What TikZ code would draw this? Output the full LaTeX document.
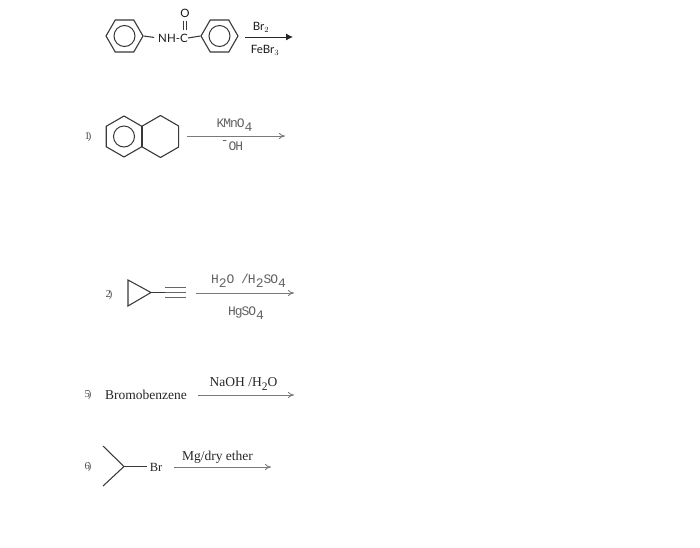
\documentclass[tikz,border=0pt]{standalone}
\usepackage{fontspec}
\setmainfont{Liberation Serif}
\newfontfamily\labelfont{Lato}
\newfontfamily\squeezefont[LetterSpace=-8]{Liberation Mono}
\newcommand{\lowsub}[1]{\raisebox{-4pt}{#1}}
\usetikzlibrary{shapes.geometric,arrows.meta}
\tikzset{
  bondline/.style={draw=black!78, line width=1.05pt},
  hexring/.style={regular polygon, regular polygon sides=6, draw=black!78,
    line width=1.1pt, minimum size=37pt, inner sep=0pt},
  arocircle/.style={circle, draw=black!78, line width=1pt, minimum size=21pt, inner sep=0pt},
  rxnarrow/.style={draw=black!52, line width=0.9pt, -{To[length=6pt,width=6pt]}},
  sanslabel/.style={font=\labelfont\fontsize{11.5}{12}\selectfont, text=black!90, inner sep=0pt},
  monolabel/.style={font=\squeezefont\fontsize{13}{14}\selectfont, text=black!62, inner sep=0pt},
  seriflabel/.style={font=\fontsize{13.5}{14}\selectfont, text=black!85, inner sep=0pt},
  numlabel/.style={font=\fontsize{10.5}{11}\selectfont, text=black!70, inner sep=0pt},
}
\begin{document}
\begin{tikzpicture}[x=1pt,y=1pt]
  \useasboundingbox (0pt,0pt) rectangle (700pt,-547pt);

  %% benzanilide
  \node[hexring] (ringa) at (124.5pt,-36pt) {};
  \node[arocircle] (ringacirc) at (124.5pt,-36pt) {};
  \node[hexring] (ringb) at (219.5pt,-36pt) {};
  \node[arocircle] (ringbcirc) at (219.5pt,-36pt) {};
  \node[sanslabel] (amide) at (173pt,-38pt) {NH-C};
  \node[sanslabel] (oxy) at (185pt,-13pt) {O};
  \coordinate (dbla) at (183.5pt,-21pt);
  \coordinate (dblb) at (183.5pt,-30pt);
  \coordinate (dblc) at (186.5pt,-21pt);
  \coordinate (dbld) at (186.5pt,-30pt);
  \draw[bondline, shorten >=4pt] (ringa.east) -- (amide.west);
  \draw[bondline] (amide.east) -- (ringb.west);
  \draw[bondline] (dbla) -- (dblb);
  \draw[bondline] (dblc) -- (dbld);

  \coordinate (arrowastart) at (245pt,-37pt);
  \coordinate (arrowaend) at (293pt,-37pt);
  \draw[black!85, line width=0.9pt, -{Latex[length=7pt,width=7pt]}] (arrowastart) -- (arrowaend);
  \node[sanslabel] (brtwo) at (261pt,-27pt) {Br$_2$};
  \node[sanslabel] (febr) at (265pt,-50pt) {FeBr$_3$};

  %% tetralin
  \node[numlabel] (numa) at (88pt,-137pt) {1\kern-2pt)};
  \node[hexring, shape border rotate=30, minimum size=41pt] (ringc) at (124pt,-136.5pt) {};
  \node[arocircle] (ringccirc) at (124pt,-136.5pt) {};
  \node[hexring, shape border rotate=30, minimum size=42pt] (ringd) at (160.5pt,-136.5pt) {};
  \coordinate (arrowbstart) at (187pt,-136pt);
  \coordinate (arrowbend) at (285pt,-136pt);
  \draw[rxnarrow] (arrowbstart) -- (arrowbend);
  \node[monolabel] (kmno) at (234.5pt,-125pt) {KMnO\lowsub{4}};
  \node[monolabel] (hydrox) at (232pt,-146pt) {\raisebox{6pt}{-}OH};

  %% cyclopropyl alkyne
  \node[numlabel] (numb) at (109pt,-295pt) {2\kern-2pt)};
  \coordinate (cpa) at (128pt,-280pt);
  \coordinate (cpb) at (128pt,-306pt);
  \coordinate (cpc) at (151pt,-292.5pt);
  \draw[bondline] (cpa) -- (cpb) -- (cpc) -- cycle;
  \coordinate (trip) at (165pt,-292.5pt);
  \coordinate (tripend) at (185.5pt,-292.5pt);
  \draw[bondline] (cpc) -- (trip);
  \draw[bondline, black!60] (trip) -- (tripend);
  \draw[bondline, black!60] ([yshift=5pt]trip) -- ([yshift=5pt]tripend);
  \draw[bondline, black!60] ([yshift=-5pt]trip) -- ([yshift=-5pt]tripend);
  \coordinate (arrowcstart) at (196pt,-293pt);
  \coordinate (arrowcend) at (294pt,-293pt);
  \draw[rxnarrow] (arrowcstart) -- (arrowcend);
  \node[monolabel] (acid) at (248.5pt,-280.5pt) {H\lowsub{2}O /H\lowsub{2}SO\lowsub{4}};
  \node[monolabel] (hgso) at (246pt,-313pt) {HgSO\lowsub{4}};

  %% bromobenzene
  \node[numlabel] (numc) at (88pt,-395pt) {5\kern-2pt)};
  \node[seriflabel, anchor=west] (brombenz) at (105pt,-395pt) {Bromobenzene};
  \coordinate (arrowdstart) at (198pt,-395pt);
  \coordinate (arrowdend) at (294pt,-395pt);
  \draw[rxnarrow] (arrowdstart) -- (arrowdend);
  \node[seriflabel] (naoh) at (243.5pt,-384.5pt) {NaOH /H\lowsub{\fontsize{11.5}{12}\selectfont 2}O};

  %% isopropyl bromide
  \node[numlabel] (numd) at (88pt,-467pt) {6\kern-2pt)};
  \coordinate (isoa) at (103pt,-446pt);
  \coordinate (isob) at (103pt,-486pt);
  \coordinate (isoc) at (124pt,-466.5pt);
  \node[seriflabel, font=\fontsize{12.5}{13}\selectfont, inner sep=3pt] (brom) at (156pt,-467pt) {Br};
  \draw[bondline] (isoa) -- (isoc);
  \draw[bondline] (isob) -- (isoc);
  \draw[bondline] (isoc) -- (brom.west |- isoc);
  \coordinate (arrowestart) at (174pt,-467pt);
  \coordinate (arrowend) at (271pt,-467pt);
  \draw[rxnarrow] (arrowestart) -- (arrowend);
  \node[seriflabel] (mgether) at (217.5pt,-457pt) {Mg/dry ether};
\end{tikzpicture}
\end{document}
